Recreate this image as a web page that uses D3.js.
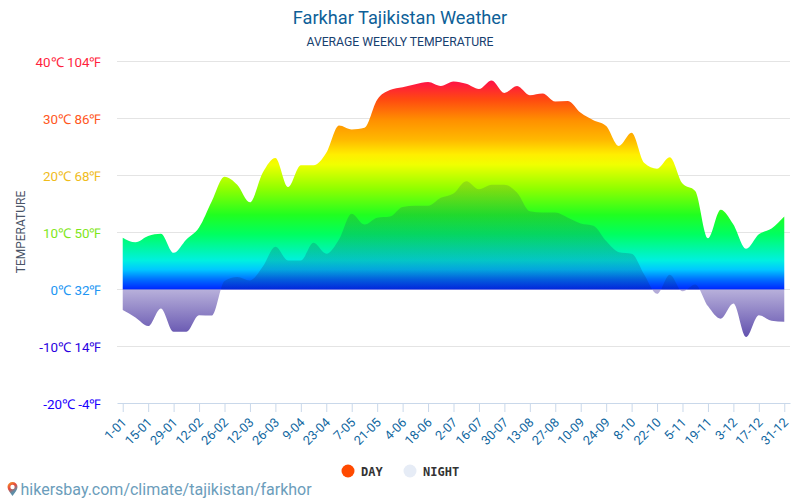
<!DOCTYPE html>
<html>
<head>
<meta charset="utf-8">
<script src="https://cdn.jsdelivr.net/npm/d3@7"></script>
<style>
  html, body { margin: 0; padding: 0; background: #fff; }
  text { font-family: Roboto, sans-serif; }
  .grid line { stroke: #e4e4e4; }
  .grid path { display: none; }
</style>
</head>
<body>
<div id="root"></div>
<script>
const weeks = ["1-01","8-01","15-01","22-01","29-01","5-02","12-02","19-02","26-02","5-03","12-03","19-03","26-03",
  "2-04","9-04","16-04","23-04","30-04","7-05","14-05","21-05","28-05","4-06","11-06","18-06","25-06",
  "2-07","9-07","16-07","23-07","30-07","6-08","13-08","20-08","27-08","3-09","10-09","17-09","24-09",
  "1-10","8-10","15-10","22-10","29-10","5-11","12-11","19-11","26-11","3-12","10-12","17-12","24-12","31-12"];
const dayTemps = [9.0,8.2,9.3,9.7,6.35,8.7,10.8,15.4,19.7,18.3,15.2,20.4,23.0,
  17.9,21.7,21.7,23.9,28.7,28.0,28.3,33.2,34.9,35.4,35.9,36.3,35.6,
  36.4,36.0,35.1,36.6,34.4,35.6,34.0,34.3,32.9,33.0,30.9,29.6,28.6,
  25.1,27.4,22.1,21.1,23.1,18.5,17.2,8.9,13.9,11.3,7.05,9.6,10.6,12.7];
const nightTemps = [-3.7,-5.0,-6.5,-3.4,-7.5,-7.5,-4.6,-4.65,1.4,2.1,1.5,3.9,7.4,
  5.0,5.0,8.1,6.2,8.7,13.2,11.3,12.5,12.7,14.4,14.6,14.6,16.0,
  16.75,18.9,17.5,18.3,18.3,16.9,13.65,13.4,13.4,12.5,11.5,11.1,8.4,
  6.45,6.2,2.5,-0.85,2.5,-0.4,0.8,-3.0,-5.2,-2.55,-8.4,-4.6,-5.55,-5.75];
const tempTicks = [40, 30, 20, 10, 0, -10, -20];
const tickColors = ["#ff1f3d", "#ff5722", "#f0bc1c", "#7fe61a", "#2196f3", "#2a00e0", "#1a00ff"];
const dayStops = [[0, "#0028ff"], [0.043, "#0070ff"], [0.085, "#00c8ff"], [0.125, "#00f0e0"],
  [0.24, "#00ff60"], [0.325, "#20ff20"], [0.44, "#90ff00"], [0.545, "#f0ff00"],
  [0.59, "#ffee00"], [0.655, "#ffb800"], [0.74, "#ff9000"], [0.83, "#ff4a10"], [0.9, "#ff1840"], [1, "#ff0050"]];
const nightStops = [[0, "rgba(70,50,160,0.88)"], [0.31, "rgba(70,50,160,0.38)"],
  [0.31, "rgba(10,40,110,0.24)"], [1, "rgba(50,70,90,0.17)"]];

const width = 800, height = 500;
const plotLeft = 117, plotRight = 790, plotTop = 61, plotBottom = 403;

const svg = d3.select("#root").append("svg")
  .attr("width", width).attr("height", height)
  .style("display", "block");

const x = d3.scalePoint().domain(weeks).range([plotLeft, plotRight]).padding(0.45);
const y = d3.scaleLinear().domain([-20, 40]).range([plotBottom, plotTop]);

// Gradients
const defs = svg.append("defs");
const addGradient = (id, from, to, stops) => {
  const grad = defs.append("linearGradient").attr("id", id)
    .attr("gradientUnits", "userSpaceOnUse")
    .attr("x1", 0).attr("x2", 0).attr("y1", y(from)).attr("y2", y(to));
  grad.selectAll("stop").data(stops).enter().append("stop")
    .attr("offset", d => d[0]).attr("stop-color", d => d[1]);
};
addGradient("dayFill", 0, 40, dayStops);
addGradient("nightFill", -9, 20, nightStops);

const pinGrad = defs.append("linearGradient").attr("id", "pinFill")
  .attr("x1", 0).attr("y1", 0).attr("x2", 0.5).attr("y2", 1);
pinGrad.append("stop").attr("offset", 0).attr("stop-color", "#f4a52a");
pinGrad.append("stop").attr("offset", 0.45).attr("stop-color", "#e8483c");
pinGrad.append("stop").attr("offset", 0.8).attr("stop-color", "#5d8ea8");

// Grid and y labels
svg.append("g").attr("class", "grid")
  .attr("transform", `translate(${plotLeft},0)`)
  .call(d3.axisLeft(y).tickValues(tempTicks.slice(0, 6)).tickSize(-(plotRight - plotLeft)).tickFormat(""));

svg.selectAll(".ylab").data(tempTicks).enter().append("text")
  .attr("class", "ylab")
  .attr("x", 101.5).attr("y", d => y(d) + 5.5)
  .attr("text-anchor", "end").attr("font-size", 13.4)
  .attr("fill", (d, i) => tickColors[i])
  .text(d => `${d}℃ ${Math.round(d * 1.8 + 32)}℉`);

// Areas
const area = vals => d3.area()
  .x((d, i) => x(weeks[i]))
  .y0(y(0) + 0.5)
  .y1(d => y(d))
  .curve(d3.curveMonotoneX)(vals);

svg.append("path").attr("d", area(dayTemps)).attr("fill", "url(#dayFill)");
svg.append("path").attr("d", area(nightTemps)).attr("fill", "url(#nightFill)");

// X axis
const xAxis = svg.append("g")
  .attr("transform", `translate(0,${plotBottom})`)
  .call(d3.axisBottom(x).tickValues(weeks.filter((d, i) => i % 2 === 0)).tickSize(9).tickSizeOuter(0));
xAxis.select(".domain").attr("stroke", "#c9d8ea");
xAxis.selectAll(".tick line").attr("stroke", "#c9d8ea");
xAxis.selectAll(".tick text")
  .attr("fill", "#10679f").attr("font-size", 12.7).attr("font-family", "Roboto, sans-serif")
  .attr("text-anchor", "end")
  .attr("x", 0).attr("y", 0).attr("dy", "0.35em")
  .attr("transform", "translate(1,17) rotate(-45)");

// Titles
svg.append("text").attr("x", 400).attr("y", 24).attr("text-anchor", "middle")
  .attr("font-size", 18.2).attr("fill", "#0e5f98").text("Farkhar Tajikistan Weather");
svg.append("text").attr("x", 400).attr("y", 46).attr("text-anchor", "middle")
  .attr("font-size", 12.2).attr("fill", "#17406f").text("AVERAGE WEEKLY TEMPERATURE");
svg.append("text").attr("transform", "translate(25,232) rotate(-90)").attr("text-anchor", "middle")
  .attr("font-size", 12).attr("fill", "#4a5568").text("TEMPERATURE");

// Legend
const legend = svg.append("g");
legend.append("circle").attr("cx", 348).attr("cy", 471).attr("r", 6.5).attr("fill", "#ff4a00");
legend.append("text").attr("x", 361).attr("y", 475.5).attr("font-size", 12).attr("font-weight", "bold")
  .style("font-family", "'DejaVu Sans Mono', monospace").attr("fill", "#333").text("DAY");
legend.append("circle").attr("cx", 410).attr("cy", 471).attr("r", 6.5).attr("fill", "#e6ecf6");
legend.append("text").attr("x", 423).attr("y", 475.5).attr("font-size", 12).attr("font-weight", "bold")
  .style("font-family", "'DejaVu Sans Mono', monospace").attr("fill", "#333").text("NIGHT");

// Footer
const pin = svg.append("g").attr("transform", "translate(12.5,489)");
pin.append("path").attr("d", "M0,-7 A5,5 0 0 1 5,-2 C5,1 2,4 0,7 C-2,4 -5,1 -5,-2 A5,5 0 0 1 0,-7 Z").attr("fill", "url(#pinFill)");
pin.append("circle").attr("cy", -2).attr("r", 2.2).attr("fill", "#fff");
svg.append("text").attr("x", 20.5).attr("y", 495).attr("font-size", 16)
  .attr("fill", "#6b9dbb").text("hikersbay.com/climate/tajikistan/farkhor");
</script>
</body>
</html>
